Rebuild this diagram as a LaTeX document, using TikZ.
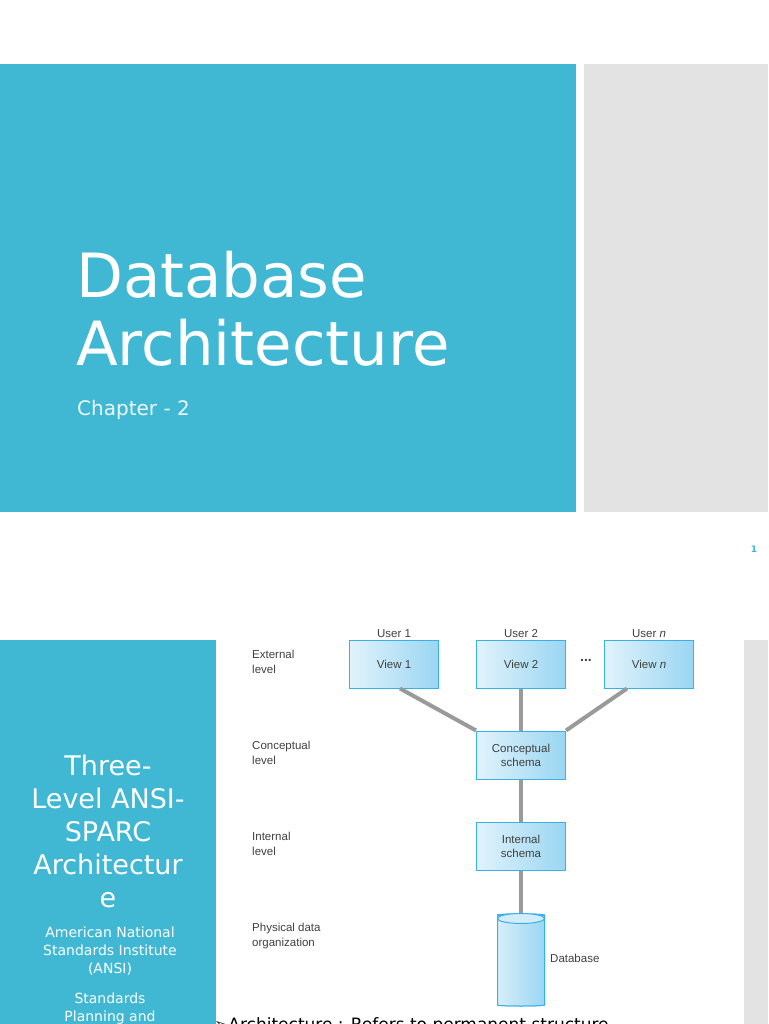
\documentclass[tikz,border=0pt]{standalone}
\usepackage{fontspec}
\setmainfont{DejaVu Sans}
\newfontfamily\diagfont{Liberation Sans}
\usetikzlibrary{positioning, shapes.geometric}
\definecolor{teal}{HTML}{40B8D3}
\definecolor{panel}{HTML}{E3E3E3}
\definecolor{boxline}{HTML}{3BB0E8}
\definecolor{boxblue}{HTML}{9AD6F2}
\definecolor{link}{HTML}{9A9A9A}
\tikzset{
  schemabox/.style={draw=boxline, line width=1pt, left color=white!70!boxblue, right color=boxblue,
    minimum width=89pt, minimum height=48pt, inner sep=1pt, align=center,
    font=\diagfont\fontsize{11.5}{14}\selectfont, text=black!75},
  levellabel/.style={anchor=north west, align=left, inner sep=0pt,
    font=\diagfont\fontsize{11.5}{15}\selectfont, text=black!75},
  dbshape/.style={cylinder, shape border rotate=90, aspect=0.3, draw=boxline, line width=1pt,
    left color=white!60!boxblue, right color=boxblue, minimum width=47pt, minimum height=92pt},
  linkline/.style={link, line width=4pt}
}
\begin{document}
\begin{tikzpicture}[x=1pt,y=-1pt]
  \useasboundingbox (0,0) rectangle (768,1024);
  \clip (0,0) rectangle (768,1024);
  \fill[white] (0,0) rectangle (768,1024);

  % First slide
  \fill[teal] (0,64) rectangle (576,512);
  \fill[panel] (584,64) rectangle (768,512);
  \node[anchor=base west, inner sep=0pt, text=white, font=\fontsize{61}{64}\selectfont] (title1) at (76,297) {Database};
  \node[anchor=base west, inner sep=0pt, text=white, font=\fontsize{61}{64}\selectfont] (title2) at (76,365) {Architecture};
  \node[anchor=base west, inner sep=0pt, text=white!90!teal, font=\fontsize{20}{24}\selectfont] (chap) at (77,415) {Chapter - 2};
  \node[text=teal, font=\fontsize{9}{10}\selectfont\bfseries] (pagenum) at (754,549) {1};

  % Second slide
  \fill[teal] (0,640) rectangle (216,1024);
  \fill[panel] (744,640) rectangle (768,1024);
  \node[text=white, align=center, inner sep=0pt, font=\fontsize{27}{33}\selectfont] (title3) at (108,831)
    {Three-\\Level ANSI-\\SPARC\\Architectur\\e};
  \node[text=white, align=center, inner sep=0pt, anchor=north, font=\fontsize{14}{18}\selectfont] (ansi) at (110,927)
    {American National\\Standards Institute\\(ANSI)\\[12pt]Standards\\Planning and};

  % Diagram
  \node[schemabox] (view1) at (394,664) {View 1};
  \node[schemabox] (view2) at (521,664) {View 2};
  \node[schemabox] (viewn) at (649,664) {View \textit{n}};
  \node[schemabox] (concept) at (521,755) {Conceptual\\schema};
  \node[schemabox] (internal) at (521,846) {Internal\\schema};
  \node[dbshape] (db) at (521,961) {};

  \foreach \v/\u in {view1/User 1, view2/User 2, viewn/User \textit{n}}
    \node[above=1pt of \v, inner sep=1pt, font=\diagfont\fontsize{11.5}{14}\selectfont, text=black!75] {\u};
  \node[font=\diagfont\fontsize{14}{14}\selectfont\bfseries, text=black!75] (dots) at (586,660) {...};
  \node[right=5pt of db.south east, anchor=south west, yshift=22pt, inner sep=0pt,
    font=\diagfont\fontsize{11.5}{14}\selectfont, text=black!75] (dblabel) {Database};

  \node[levellabel] (ext) at (252,650) {External\\level};
  \node[levellabel] (con) at (252,741) {Conceptual\\level};
  \node[levellabel] (int) at (252,832) {Internal\\level};
  \node[levellabel] (phy) at (252,923) {Physical data\\organization};

  % Links
  \draw[linkline] ([xshift=6pt]view1.south) -- (concept.north west);
  \draw[linkline] (view2.south) -- (concept.north);
  \draw[linkline] ([xshift=-22pt]viewn.south) -- (concept.north east);
  \draw[linkline] (concept.south) -- (internal.north);
  \draw[linkline] (internal.south) -- ([yshift=-4pt]db.top);
  \node[schemabox] at (concept) {Conceptual\\schema};
  \node[schemabox] at (internal) {Internal\\schema};
  \node[dbshape] at (db) {};
  \draw[boxline, line width=1pt, fill=white!55!boxblue] ([yshift=-5pt]db.top) ellipse (23.5pt and 5pt);

  % Bottom text
  \node[anchor=base west, inner sep=0pt, font=\fontsize{17}{20}\selectfont] (archtext) at (214,1030)
    {➢Architecture : Refers to permanent structure};
\end{tikzpicture}
\end{document}
